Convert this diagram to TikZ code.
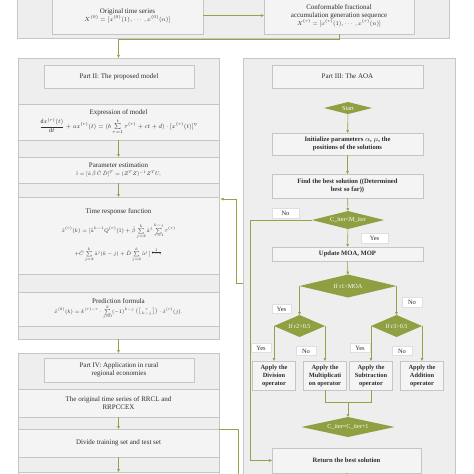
\documentclass[tikz,border=0pt]{standalone}
\usepackage{amsmath}
\usepackage{graphicx}
\usepackage{fontspec}
\setmainfont{Liberation Serif}
\usetikzlibrary{shapes.geometric,shadows,arrows.meta,calc}
\definecolor{lnc}{HTML}{93A348}
\definecolor{dg}{HTML}{8EA042}
\definecolor{pnl}{HTML}{EEEEEE}
\definecolor{bx}{HTML}{F4F4F4}
\definecolor{bd}{HTML}{C6C6C6}
\definecolor{tx}{HTML}{2E2E2E}
\newcommand\fml[2]{\resizebox{#1pt}{!}{$#2$}}
\tikzset{
  panel/.style={draw=bd, fill=pnl, line width=0.6pt, inner sep=0pt, outer sep=0pt},
  box/.style={draw=bd, fill=bx, line width=0.6pt, inner sep=1pt, outer sep=0pt, align=center,
    drop shadow={opacity=0.25, shadow xshift=0.8pt, shadow yshift=-0.8pt}},
  rbox/.style={box, font=\fontsize{6.6}{8}\selectfont\bfseries},
  dia/.style={diamond, fill=dg, text=white, inner sep=0pt, outer sep=0pt, align=center,
    font=\fontsize{6.2}{7}\selectfont, shape aspect=4},
  lab/.style={draw=gray!25, fill=white, inner sep=0.5pt, outer sep=0pt,
    font=\fontsize{6.5}{7}\selectfont, drop shadow={opacity=0.15, shadow xshift=0.6pt, shadow yshift=-0.6pt}},
  arr/.style={draw=lnc, line width=0.6pt, -{Triangle[length=3pt,width=2.6pt]}},
  conn/.style={draw=lnc, line width=0.6pt},
}
\begin{document}
\begin{tikzpicture}[x=1pt, y=-1pt, font=\fontsize{7}{8.2}\selectfont, text=tx]
\useasboundingbox (0,0) rectangle (474,474);
\clip (0,0) rectangle (474,474);
\fill[white] (0,0) rectangle (474,474);

% top panel
\node[panel, minimum width=432pt, minimum height=43pt] (toppanel) at (233,16.5) {};
\node[box, minimum width=151pt, minimum height=37pt] (orig) at (127.5,15.5)
  {Original time series\\ \fml{86}{X^{(0)}=[x^{(0)}(1),\cdots,x^{(0)}(n)]}};
\node[box, minimum width=150pt, minimum height=37pt] (conf) at (339,15.5)
  {Conformable fractional\\ accumulation generation sequence\\ \fml{84}{X^{(r)}=[x^{(r)}(1),\cdots,x^{(r)}(n)]}};

% Part II panel
\node[panel, minimum width=201pt, minimum height=281pt] (p2) at (118.5,198.5) {};
\node[box, minimum width=150pt, minimum height=23pt] (p2title) at (119,76.5) {Part II: The proposed model};
\node[box, minimum width=201pt, minimum height=36pt] (expr) at (118.5,122)
  {Expression of model\\[1pt] \fml{158}{\dfrac{\mathrm{d}x^{(r)}(t)}{\mathrm{d}t}+ax^{(r)}(t)=(b\sum\limits_{\tau=1}^{t}\tau^{(r)}+ct+d)\cdot[x^{(r)}(t)]^{\eta}}};
\node[box, minimum width=201pt, minimum height=26pt] (param) at (118.5,170)
  {Parameter estimation\\ \fml{85}{\hat{\imath}=[\hat{a}\,\hat{\beta}\,\hat{C}\,\hat{D}]^{T}=(Z^{T}Z)^{-1}Z^{T}U,}};
\node[box, minimum width=201pt, minimum height=77pt] (tresp) at (118.5,235.5)
  {Time response function\\[7pt]
   \fml{114}{\hat{x}^{(r)}(k)=[\hat{a}^{k-1}Q^{(r)}(1)+\hat{\beta}\sum\limits_{j=2}^{k}\hat{a}^{j}\sum\limits_{\tau=1}^{k-j}\tau^{(r)}}\\[8pt]
   \fml{88}{+\hat{C}\sum\limits_{j=2}^{k}\hat{a}^{j}(k-j)+\hat{D}\sum\limits_{j=2}^{k}\hat{a}^{j}\,]^{\frac{1}{1-\eta}}}};
\node[box, minimum width=201pt, minimum height=34pt] (pred) at (118.5,309)
  {Prediction formula\\ \fml{128}{\hat{x}^{(0)}(k)=k^{(r)-r}\cdot\sum\limits_{j=0}^{k}(-1)^{k-j}\left(\left[\begin{smallmatrix}r\\ k-j\end{smallmatrix}\right]\right)\cdot\hat{x}^{(r)}(j).}};

% Part IV panel
\node[panel, minimum width=201pt, minimum height=137pt] (p4) at (118.5,421.5) {};
\node[box, minimum width=150pt, minimum height=24pt] (p4title) at (119,370)
  {Part IV: Application in rural\\ regional economies};
\node[box, minimum width=201pt, minimum height=28pt] (orig2) at (118.5,403)
  {The original time series of RRCL and\\ RRPCCEX};
\node[box, minimum width=201pt, minimum height=28pt] (divide) at (118.5,443)
  {Divide training set and test set};
\node[box, minimum width=201pt, minimum height=28pt] (nextbox) at (118.5,486) {};

% Part III panel
\node[panel, minimum width=212pt, minimum height=432pt] (p3) at (349,274) {};
\node[box, minimum width=151pt, minimum height=23pt] (p3title) at (347.5,76.5) {Part III: The AOA};
\node[dia, minimum width=48pt, minimum height=12pt, shape aspect=4.4] (start) at (348,108) {Start};
\node[rbox, minimum width=151pt, minimum height=22pt] (init) at (347.5,144)
  {Initialize parameters $\alpha$, $\mu$, the\\ positions of the solutions};
\node[rbox, minimum width=151pt, minimum height=24pt] (find) at (347.5,186)
  {Find the best solution ((Determined\\ best so far))};
\node[dia, minimum width=72pt, minimum height=18pt, shape aspect=4.2] (cdia) at (348,220) {C\_iter<M\_iter};
\node[rbox, minimum width=151pt, minimum height=14pt] (update) at (347.5,254) {Update MOA, MOP};
\node[dia, minimum width=97pt, minimum height=23pt, shape aspect=4] (r1) at (348,286) {If r1>MOA};
\node[dia, minimum width=51pt, minimum height=22pt, shape aspect=2.3] (r2) at (299.5,326) {If r2>0.5};
\node[dia, minimum width=51pt, minimum height=22pt, shape aspect=2.3] (r3) at (396.5,326) {If r3>0.5};
\node[rbox, minimum width=43pt, minimum height=29pt, font=\fontsize{6.4}{8}\selectfont\bfseries] (div) at (274,375.5) {Apply the\\ Division\\ operator};
\node[rbox, minimum width=43pt, minimum height=29pt, font=\fontsize{6.4}{8}\selectfont\bfseries] (mul) at (325,375.5) {Apply the\\ Multiplicati\\ on operator};
\node[rbox, minimum width=43pt, minimum height=29pt, font=\fontsize{6.4}{8}\selectfont\bfseries] (sub) at (371,375.5) {Apply the\\ Subtraction\\ operator};
\node[rbox, minimum width=43pt, minimum height=29pt, font=\fontsize{6.4}{8}\selectfont\bfseries] (add) at (422,375.5) {Apply the\\ Addition\\ operator};
\node[dia, minimum width=93pt, minimum height=20pt, shape aspect=5] (cinc) at (348,427) {C\_iter=C\_iter+1};
\node[rbox, minimum width=149pt, minimum height=25pt] (ret) at (346.5,460.5) {Return the best solution};

% labels
\node[lab, minimum width=27pt, minimum height=10pt] (lno1) at (285.5,213) {No};
\node[lab, minimum width=27pt, minimum height=10pt] (lyes1) at (374.5,238) {Yes};
\node[lab, minimum width=19pt, minimum height=9pt] (lyes2) at (281.5,309) {Yes};
\node[lab, minimum width=20pt, minimum height=10pt] (lno2) at (412,302.5) {No};
\node[lab, minimum width=20pt, minimum height=9pt] (lyes3) at (261,348) {Yes};
\node[lab, minimum width=20pt, minimum height=9pt] (lno3) at (306,351) {No};
\node[lab, minimum width=20pt, minimum height=9pt] (lyes4) at (360,348) {Yes};
\node[lab, minimum width=20pt, minimum height=9pt] (lno4) at (402,351) {No};

% connectors: top
\draw[arr] (orig) -- (conf);
\draw[arr] (conf.south) -- ++(0,5) -| (p2.north);
% left column
\draw[arr] (expr) -- (param);
\draw[arr] (param) -- (tresp);
\draw[arr] (p2) -- (p4);
\draw[arr] (orig2) -- (divide);
\draw[arr] (divide) -- (nextbox);
% right column
\draw[arr] (start) -- (init);
\draw[arr] (init) -- (find);
\draw[arr] (find) -- (cdia);
\draw[arr] (cdia) -- (update);
\draw[arr] (update) -- (r1);
\draw[arr] (r1.west) -- (r2.north);
\draw[arr] (r1.east) -- (r3.north);
\draw[arr] (r2.west) -- (div.north);
\draw[arr] (r2.east) -- (mul.north);
\draw[arr] (r3.west) -- (sub.north);
\draw[arr] (r3.east) -- (add.north);
\coordinate (jn) at (348,402);
\draw[conn] (mul.south) |- (jn);
\draw[conn] (sub.south) |- (jn);
\draw[arr] (jn) -- (cinc.north);
\coordinate (noleft) at (250,220);
\draw[arr] (cdia.west) -- (noleft) |- (ret.west);
\coordinate (retdown) at (346.5,480);
\draw[conn] (ret.south) -- (retdown);
% feedback to time response
\coordinate (fb) at (243,283);
\coordinate (fbtop) at (236,199);
\draw[arr] (fb) -- (fb -| fbtop) -- (fbtop) -- ($(fbtop -| tresp.east)+(1.5,0)$);
% bottom link
\coordinate (bl) at (238,480);
\draw[conn] (bl) |- (divide.north east);
\end{tikzpicture}
\end{document}
